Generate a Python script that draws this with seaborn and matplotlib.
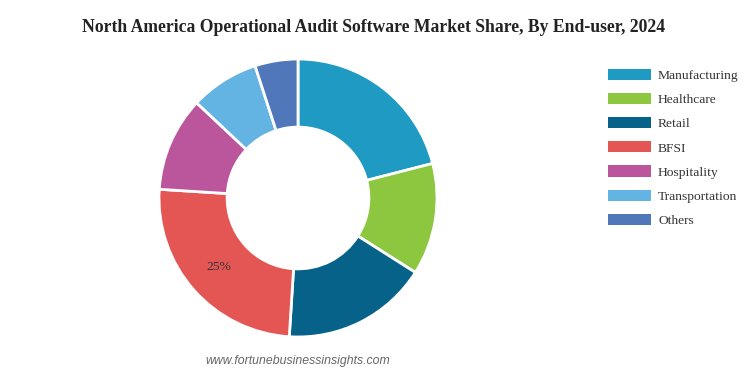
import matplotlib
matplotlib.use("Agg")
import matplotlib.pyplot as plt
import seaborn as sns
from matplotlib.patches import Patch

categories = ["Manufacturing", "Healthcare", "Retail", "BFSI", "Hospitality", "Transportation", "Others"]
shares = [21, 13, 17, 25, 11, 8, 5]
colors = ["#1e9ac3", "#8dc63f", "#066289", "#e35654", "#bc569c", "#63b3e3", "#4f77ba"]
labeled = ["BFSI"]

sns.set_theme(style="white")
plt.rcParams["font.family"] = ["Liberation Serif", "DejaVu Serif"]
palette = sns.color_palette(colors)

W, H = 748, 374
fig = plt.figure(figsize=(W / 100, H / 100), dpi=100)
cx, cy, R = 298, 198, 139
ax = fig.add_axes([(cx - R) / W, (H - cy - R) / H, 2 * R / W, 2 * R / H])

def fmt(p, _it=iter(categories)):
    name = next(_it)
    return f"{p:.0f}%" if name in labeled else ""

wedges, texts, autotexts = ax.pie(
    shares, colors=palette, startangle=90, counterclock=False,
    wedgeprops=dict(width=0.49, edgecolor="white", linewidth=2),
    autopct=fmt, pctdistance=0.755,
    textprops=dict(fontsize=9.7, color="#333333"),
)
ax.set_aspect("equal")
ax.set_xlim(-1, 1)
ax.set_ylim(-1, 1)
ax.axis("off")

fig.text(374 / W, 1 - 27 / H, "North America Operational Audit Software Market Share, By End-user, 2024",
         ha="center", va="center", fontsize=12.7, fontweight="bold", color="#222222")
fig.text(298 / W, 1 - 361 / H, "www.fortunebusinessinsights.com",
         ha="center", va="center", fontsize=8.8, style="italic", color="#666666",
         family=["Liberation Sans", "DejaVu Sans"])

handles = [Patch(facecolor=c, edgecolor="none") for c in palette]
leg = fig.legend(handles, categories, loc="upper left",
                 bbox_to_anchor=(608 / W, 1 - 69 / H), frameon=False,
                 fontsize=9.7, handlelength=3.2, handleheight=0.89,
                 labelspacing=0.81, handletextpad=0.52, borderaxespad=0,
                 borderpad=0)
for t in leg.get_texts():
    t.set_color("#333333")

fig.savefig("out.png", dpi=100)
